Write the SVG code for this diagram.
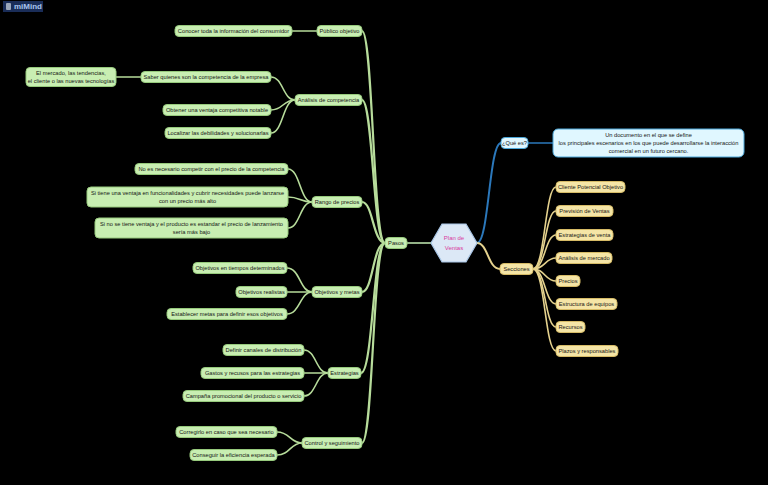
<svg xmlns="http://www.w3.org/2000/svg" width="768" height="485" viewBox="0 0 768 485">
<style>
text{font-family:"Liberation Sans","DejaVu Sans",sans-serif;font-size:5.7px;fill:#151515;text-anchor:middle;dominant-baseline:central}
.g rect{fill:#c8eeb2;stroke:#96c97c;stroke-width:1}
.y rect{fill:#f5e5a6;stroke:#d6bb66;stroke-width:1}
.b rect{fill:#e0f7ff;stroke:#4aa6d8;stroke-width:1}
.lg{fill:none;stroke:#b7dc9b;stroke-linecap:round}
.ly{fill:none;stroke:#e5d28e;stroke-linecap:round}
.lb{fill:none;stroke:#2b78bb;stroke-linecap:round}
</style>
<rect x="0" y="0" width="768" height="485" fill="#000"/>
<g id="logo">
<rect x="3" y="1" width="40" height="11" fill="#1a2d58"/>
<rect x="6" y="3" width="5" height="7" rx="1" fill="#9aa6b8"/>
<text x="28" y="6.8" style="font-size:8px;font-weight:bold;fill:#a9c4ee">miMind</text>
</g>
<g id="connectors">
<path class="lg" stroke-width="2.2" d="M385,243 C373,243 373,31 362,31"/>
<path class="lg" stroke-width="2.2" d="M385,243 C373,243 373,100 362,100"/>
<path class="lg" stroke-width="2.2" d="M385,243 C373,243 373,202 362,202"/>
<path class="lg" stroke-width="2.2" d="M385,243 C373,243 373,292 362,292"/>
<path class="lg" stroke-width="2.2" d="M385,243 C373,243 373,373 361,373"/>
<path class="lg" stroke-width="2.2" d="M385,243 C373,243 373,443 362,443"/>
<path class="lg" stroke-width="2.2" d="M431,243 L407,243" style="stroke:#93b287"/>
<path class="lg" stroke-width="1.6" d="M317,31 L292,31"/>
<path class="lg" stroke-width="1.6" d="M295,100 C283,100 283,77 271,77"/>
<path class="lg" stroke-width="1.6" d="M295,100 C283,100 283,110 271,110"/>
<path class="lg" stroke-width="1.6" d="M295,100 C283,100 283,133 271,133"/>
<path class="lg" stroke-width="1.4" d="M141,77 L116,77"/>
<path class="lg" stroke-width="1.6" d="M312,202 C300,202 300,169 288,169"/>
<path class="lg" stroke-width="1.6" d="M312,202 C300,202 300,197 288,197"/>
<path class="lg" stroke-width="1.6" d="M312,202 C300,202 300,228 288,228"/>
<path class="lg" stroke-width="1.6" d="M312,292 C300,292 300,268 287,268"/>
<path class="lg" stroke-width="1.6" d="M312,292 L287,292"/>
<path class="lg" stroke-width="1.6" d="M312,292 C300,292 300,314 287,314"/>
<path class="lg" stroke-width="1.6" d="M328,373 C316,373 316,350 304,350"/>
<path class="lg" stroke-width="1.6" d="M328,373 L304,373"/>
<path class="lg" stroke-width="1.6" d="M328,373 C316,373 316,396 304,396"/>
<path class="lg" stroke-width="1.6" d="M302,443 C290,443 290,432 277,432"/>
<path class="lg" stroke-width="1.6" d="M302,443 C290,443 290,455 277,455"/>
<path class="lb" stroke-width="2" d="M477,243 C489,243 489,143 501,143"/>
<path class="lb" stroke-width="1.6" d="M528,143 L553,143"/>
<path class="ly" stroke-width="2" d="M477,243 C488,243 488,269 500,269"/>
<path class="ly" stroke-width="1.6" d="M533,269 C545,269 545,187 556,187"/>
<path class="ly" stroke-width="1.6" d="M533,269 C545,269 545,211 556,211"/>
<path class="ly" stroke-width="1.6" d="M533,269 C545,269 545,235 556,235"/>
<path class="ly" stroke-width="1.6" d="M533,269 C545,269 545,258 556,258"/>
<path class="ly" stroke-width="1.6" d="M533,269 C545,269 545,281 556,281"/>
<path class="ly" stroke-width="1.6" d="M533,269 C545,269 545,304 556,304"/>
<path class="ly" stroke-width="1.6" d="M533,269 C545,269 545,327 556,327"/>
<path class="ly" stroke-width="1.6" d="M533,269 C545,269 545,351 556,351"/>
</g>
<g id="center">
<polygon points="431,243 442,224 466,224 477,243 466,262 442,262" fill="#dce8f6" stroke="#a9c6e6" stroke-width="1.2"/>
<text x="454" y="238" style="fill:#d93a9c;font-size:6px">Plan de</text>
<text x="454" y="248" style="fill:#d93a9c;font-size:6px">Ventas</text>
</g>
<g id="pasos" class="g"><rect x="385" y="237.5" width="22" height="11" rx="4"/><text x="396" y="243">Pasos</text></g>
<g id="publico" class="g"><rect x="317" y="25.5" width="45" height="11" rx="4"/><text x="339.5" y="31">Público objetivo</text></g>
<g id="conocer" class="g"><rect x="175" y="25.5" width="117" height="11" rx="4"/><text x="233.5" y="31">Conocer toda la información del consumidor</text></g>
<g id="analisis" class="g"><rect x="295" y="94.5" width="67" height="11" rx="4"/><text x="328.5" y="100">Análisis de competencia</text></g>
<g id="saber" class="g"><rect x="141" y="71.5" width="130" height="11" rx="4"/><text x="206" y="77">Saber quienes son la competencia de la empresa</text></g>
<g id="mercado" class="g"><rect x="26" y="67.5" width="90" height="19" rx="4"/><text x="71" y="73">El mercado, las tendencias,</text><text x="71" y="81">el cliente o las nuevas tecnologías</text></g>
<g id="obtener" class="g"><rect x="163" y="104.5" width="108" height="11" rx="4"/><text x="217" y="110">Obtener una ventaja competitiva notable</text></g>
<g id="localizar" class="g"><rect x="165" y="127.5" width="106" height="11" rx="4"/><text x="218" y="133">Localizar las debilidades y solucionarlas</text></g>
<g id="rango" class="g"><rect x="312" y="196.5" width="50" height="11" rx="4"/><text x="337" y="202">Rango de precios</text></g>
<g id="noes" class="g"><rect x="135" y="163.5" width="153" height="11" rx="4"/><text x="211.5" y="169">No es necesario competir con el precio de la competencia</text></g>
<g id="sitiene" class="g"><rect x="87" y="187" width="201" height="20" rx="4"/><text x="187.5" y="193">Si tiene una ventaja en funcionalidades y cubrir necesidades puede lanzarse</text><text x="187.5" y="201">con un precio más alto</text></g>
<g id="sino" class="g"><rect x="95" y="218" width="193" height="20" rx="4"/><text x="191.5" y="224">Si no se tiene ventaja y el producto es estandar el precio de lanzamiento</text><text x="191.5" y="232">sería más bajo</text></g>
<g id="objetivos" class="g"><rect x="312" y="286.5" width="50" height="11" rx="4"/><text x="337" y="292">Objetivos y metas</text></g>
<g id="tiempos" class="g"><rect x="193" y="262.5" width="94" height="11" rx="4"/><text x="240" y="268">Objetivos en tiempos determinados</text></g>
<g id="realistas" class="g"><rect x="236" y="286.5" width="51" height="11" rx="4"/><text x="261.5" y="292">Objetivos realistas</text></g>
<g id="establecer" class="g"><rect x="167" y="308.5" width="120" height="11" rx="4"/><text x="227" y="314">Establecer metas para definir esos objetivos</text></g>
<g id="estrategias" class="g"><rect x="328" y="367.5" width="33" height="11" rx="4"/><text x="344.5" y="373">Estrategias</text></g>
<g id="definir" class="g"><rect x="223" y="344.5" width="81" height="11" rx="4"/><text x="263.5" y="350">Definir canales de distribución</text></g>
<g id="gastos" class="g"><rect x="201" y="367.5" width="103" height="11" rx="4"/><text x="252.5" y="373">Gastos y recusos para las estrategias</text></g>
<g id="campana" class="g"><rect x="183" y="390.5" width="121" height="11" rx="4"/><text x="243.5" y="396">Campaña promocional del producto o servicio</text></g>
<g id="control" class="g"><rect x="302" y="437.5" width="60" height="11" rx="4"/><text x="332" y="443">Control y seguimiento</text></g>
<g id="corregir" class="g"><rect x="176" y="426.5" width="101" height="11" rx="4"/><text x="226.5" y="432">Corregirlo en caso que sea necesario</text></g>
<g id="conseguir" class="g"><rect x="190" y="449.5" width="87" height="11" rx="4"/><text x="233.5" y="455">Conseguir la eficiencia esperada</text></g>
<g id="quees" class="b"><rect x="501" y="137.5" width="27" height="11" rx="4"/><text x="514.5" y="143">¿Qué es?</text></g>
<g id="definicion" class="b"><rect x="553" y="129" width="191" height="28" rx="5"/><text x="648.5" y="135">Un documento en el que se define</text><text x="648.5" y="143">los principales escenarios en los que puede desarrollarse la interacción</text><text x="648.5" y="151">comercial en un futuro cercano.</text></g>
<g id="secciones" class="y"><rect x="500" y="263.5" width="33" height="11" rx="4"/><text x="516.5" y="269">Secciones</text></g>
<g id="cliente" class="y"><rect x="556" y="181.5" width="69" height="11" rx="4"/><text x="590.5" y="187">Cliente Potencial Objetivo</text></g>
<g id="prevision" class="y"><rect x="556" y="205.5" width="57" height="11" rx="4"/><text x="584.5" y="211">Previsión de Ventas</text></g>
<g id="estrventa" class="y"><rect x="556" y="229.5" width="57" height="11" rx="4"/><text x="584.5" y="235">Estrategias de venta</text></g>
<g id="mercadoan" class="y"><rect x="556" y="252.5" width="56" height="11" rx="4"/><text x="584" y="258">Análisis de mercado</text></g>
<g id="precios" class="y"><rect x="556" y="275.5" width="24" height="11" rx="4"/><text x="568" y="281">Precios</text></g>
<g id="equipos" class="y"><rect x="556" y="298.5" width="61" height="11" rx="4"/><text x="586.5" y="304">Estructura de equipos</text></g>
<g id="recursos" class="y"><rect x="556" y="321.5" width="29" height="11" rx="4"/><text x="570.5" y="327">Recursos</text></g>
<g id="plazos" class="y"><rect x="556" y="345.5" width="62" height="11" rx="4"/><text x="587" y="351">Plazos y responsables</text></g>
</svg>
